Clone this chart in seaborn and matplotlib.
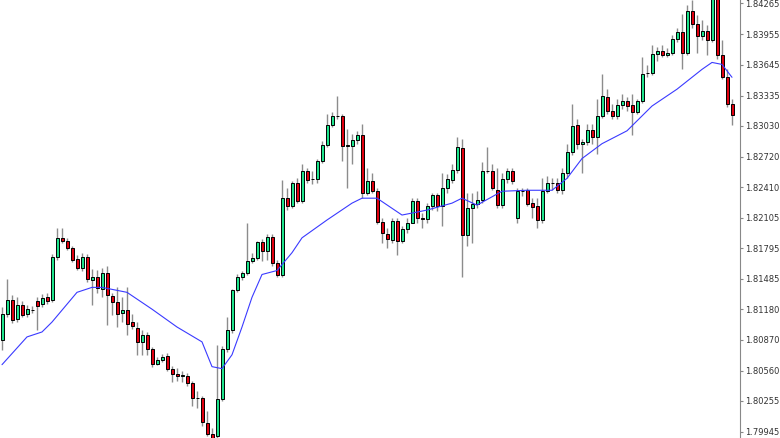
import numpy as np
import pandas as pd
import matplotlib
matplotlib.use("Agg")
import matplotlib.pyplot as plt
import seaborn as sns

# candle data (price, 4 decimals)
opens = [1.8087, 1.8113, 1.8127, 1.8108, 1.8122, 1.8113, 1.8117, 1.8126, 1.8123, 1.8130,
         1.8127, 1.8171, 1.8190, 1.8187, 1.8180, 1.8169, 1.8160, 1.8171, 1.8147, 1.8150,
         1.8138, 1.8155, 1.8131, 1.8125, 1.8114, 1.8117, 1.8105, 1.8099, 1.8085, 1.8092,
         1.8078, 1.8063, 1.8067, 1.8071, 1.8058, 1.8053, 1.8051, 1.8051, 1.8044, 1.8028,
         1.8028, 1.8003, 1.7992, 1.7990, 1.8027, 1.8078, 1.8097, 1.8137, 1.8150, 1.8155,
         1.8167, 1.8170, 1.8186, 1.8177, 1.8191, 1.8165, 1.8152, 1.8230, 1.8222, 1.8245,
         1.8227, 1.8257, 1.8249, 1.8249, 1.8268, 1.8284, 1.8304, 1.8313, 1.8313, 1.8283,
         1.8283, 1.8289, 1.8294, 1.8235, 1.8247, 1.8237, 1.8206, 1.8194, 1.8188, 1.8207,
         1.8187, 1.8199, 1.8205, 1.8227, 1.8210, 1.8209, 1.8222, 1.8233, 1.8222, 1.8240,
         1.8248, 1.8258, 1.8281, 1.8193, 1.8220, 1.8224, 1.8228, 1.8257, 1.8257, 1.8238,
         1.8223, 1.8249, 1.8257, 1.8210, 1.8237, 1.8238, 1.8225, 1.8222, 1.8208, 1.8237,
         1.8245, 1.8245, 1.8238, 1.8255, 1.8277, 1.8304, 1.8285, 1.8287, 1.8299, 1.8292,
         1.8313, 1.8332, 1.8318, 1.8313, 1.8324, 1.8328, 1.8324, 1.8317, 1.8328, 1.8356,
         1.8356, 1.8376, 1.8379, 1.8375, 1.8377, 1.8391, 1.8398, 1.8377, 1.8419, 1.8406,
         1.8394, 1.8399, 1.8390, 1.8435, 1.8375, 1.8352, 1.8325]
closes = [1.8113, 1.8127, 1.8107, 1.8122, 1.8112, 1.8118, 1.8117, 1.8121, 1.8129, 1.8126,
          1.8171, 1.8190, 1.8187, 1.8180, 1.8168, 1.8160, 1.8171, 1.8148, 1.8150, 1.8139,
          1.8155, 1.8132, 1.8125, 1.8113, 1.8117, 1.8103, 1.8101, 1.8085, 1.8092, 1.8078,
          1.8063, 1.8067, 1.8070, 1.8058, 1.8053, 1.8051, 1.8051, 1.8043, 1.8028, 1.8028,
          1.8004, 1.7992, 1.7985, 1.8027, 1.8078, 1.8097, 1.8137, 1.8150, 1.8155, 1.8167,
          1.8170, 1.8186, 1.8177, 1.8191, 1.8165, 1.8152, 1.8230, 1.8222, 1.8245, 1.8227,
          1.8257, 1.8248, 1.8249, 1.8268, 1.8284, 1.8304, 1.8313, 1.8313, 1.8283, 1.8283,
          1.8289, 1.8294, 1.8235, 1.8247, 1.8237, 1.8206, 1.8195, 1.8189, 1.8207, 1.8187,
          1.8199, 1.8205, 1.8227, 1.8210, 1.8209, 1.8222, 1.8233, 1.8222, 1.8240, 1.8249,
          1.8258, 1.8282, 1.8193, 1.8220, 1.8224, 1.8228, 1.8257, 1.8257, 1.8240, 1.8223,
          1.8249, 1.8257, 1.8247, 1.8237, 1.8237, 1.8224, 1.8221, 1.8208, 1.8237, 1.8245,
          1.8245, 1.8238, 1.8255, 1.8277, 1.8303, 1.8285, 1.8287, 1.8299, 1.8292, 1.8313,
          1.8333, 1.8318, 1.8313, 1.8324, 1.8328, 1.8323, 1.8317, 1.8328, 1.8355, 1.8356,
          1.8376, 1.8379, 1.8375, 1.8377, 1.8391, 1.8398, 1.8377, 1.8419, 1.8406, 1.8394,
          1.8399, 1.8390, 1.8435, 1.8375, 1.8352, 1.8325, 1.8314]
highs = [1.8120, 1.8148, 1.8132, 1.8130, 1.8126, 1.8122, 1.8121, 1.8130, 1.8133, 1.8134,
         1.8174, 1.8200, 1.8200, 1.8190, 1.8182, 1.8173, 1.8175, 1.8174, 1.8159, 1.8158,
         1.8160, 1.8162, 1.8134, 1.8140, 1.8130, 1.8140, 1.8113, 1.8105, 1.8097, 1.8095,
         1.8080, 1.8070, 1.8073, 1.8074, 1.8061, 1.8059, 1.8056, 1.8054, 1.8046, 1.8035,
         1.8030, 1.8015, 1.7998, 1.8082, 1.8081, 1.8110, 1.8138, 1.8153, 1.8157, 1.8205,
         1.8175, 1.8187, 1.8189, 1.8194, 1.8194, 1.8168, 1.8248, 1.8240, 1.8247, 1.8250,
         1.8265, 1.8260, 1.8257, 1.8270, 1.8288, 1.8315, 1.8317, 1.8333, 1.8315, 1.8300,
         1.8295, 1.8298, 1.8305, 1.8260, 1.8255, 1.8240, 1.8210, 1.8200, 1.8210, 1.8210,
         1.8202, 1.8210, 1.8230, 1.8230, 1.8215, 1.8225, 1.8235, 1.8235, 1.8255, 1.8254,
         1.8265, 1.8292, 1.8290, 1.8235, 1.8235, 1.8237, 1.8267, 1.8282, 1.8265, 1.8260,
         1.8255, 1.8260, 1.8260, 1.8240, 1.8240, 1.8240, 1.8230, 1.8230, 1.8250, 1.8252,
         1.8250, 1.8250, 1.8260, 1.8285, 1.8325, 1.8310, 1.8290, 1.8305, 1.8305, 1.8330,
         1.8355, 1.8340, 1.8325, 1.8330, 1.8335, 1.8332, 1.8335, 1.8330, 1.8372, 1.8364,
         1.8385, 1.8383, 1.8385, 1.8382, 1.8395, 1.8402, 1.8416, 1.8425, 1.8430, 1.8415,
         1.8410, 1.8405, 1.8440, 1.8440, 1.8390, 1.8360, 1.8330]
lows = [1.8077, 1.8110, 1.8104, 1.8105, 1.8110, 1.8110, 1.8114, 1.8097, 1.8120, 1.8123,
        1.8125, 1.8168, 1.8185, 1.8178, 1.8166, 1.8158, 1.8157, 1.8145, 1.8122, 1.8134,
        1.8130, 1.8102, 1.8112, 1.8100, 1.8105, 1.8092, 1.8098, 1.8072, 1.8072, 1.8072,
        1.8060, 1.8062, 1.8065, 1.8056, 1.8045, 1.8046, 1.8045, 1.8040, 1.8020, 1.8018,
        1.8000, 1.7990, 1.7980, 1.7988, 1.8025, 1.8075, 1.8094, 1.8135, 1.8147, 1.8152,
        1.8165, 1.8168, 1.8167, 1.8168, 1.8162, 1.8150, 1.8150, 1.8218, 1.8220, 1.8225,
        1.8225, 1.8245, 1.8244, 1.8245, 1.8266, 1.8282, 1.8302, 1.8310, 1.8268, 1.8240,
        1.8265, 1.8285, 1.8230, 1.8233, 1.8235, 1.8204, 1.8185, 1.8180, 1.8185, 1.8173,
        1.8185, 1.8195, 1.8205, 1.8205, 1.8200, 1.8205, 1.8218, 1.8217, 1.8202, 1.8235,
        1.8245, 1.8255, 1.8150, 1.8182, 1.8185, 1.8220, 1.8225, 1.8255, 1.8238, 1.8220,
        1.8220, 1.8245, 1.8244, 1.8205, 1.8232, 1.8222, 1.8210, 1.8200, 1.8205, 1.8235,
        1.8238, 1.8235, 1.8234, 1.8250, 1.8274, 1.8280, 1.8255, 1.8284, 1.8285, 1.8275,
        1.8311, 1.8315, 1.8310, 1.8310, 1.8320, 1.8318, 1.8294, 1.8315, 1.8326, 1.8352,
        1.8354, 1.8368, 1.8372, 1.8372, 1.8374, 1.8388, 1.8360, 1.8375, 1.8402, 1.8377,
        1.8390, 1.8375, 1.8388, 1.8370, 1.8350, 1.8322, 1.8304]

# moving average read at selected candles
ma_idx = [0, 5, 8, 10, 15, 18, 20, 25, 30, 35, 40, 42, 44, 46, 48, 50, 52, 55, 58, 60,
          65, 70, 72, 75, 80, 85, 90, 92, 95, 100, 105, 110, 113, 116, 120, 125, 130, 135,
          140, 142, 144, 146]
ma_val = [1.8062, 1.8090, 1.8095, 1.8105, 1.8135, 1.8140, 1.8140, 1.8135, 1.8118, 1.8100,
          1.8085, 1.8060, 1.8058, 1.8072, 1.8100, 1.8130, 1.8153, 1.8157, 1.8175, 1.8190,
          1.8208, 1.8225, 1.8230, 1.8230, 1.8213, 1.8218, 1.8225, 1.8230, 1.8223, 1.8237,
          1.8238, 1.8238, 1.8250, 1.8270, 1.8285, 1.8298, 1.8323, 1.8340, 1.8360, 1.8367,
          1.8365, 1.8352]

tick_labels = ["1.84265", "1.83955", "1.83645", "1.83335", "1.83030", "1.82720", "1.82410",
               "1.82105", "1.81795", "1.81485", "1.81180", "1.80870", "1.80560", "1.80255",
               "1.79945"]

df = pd.DataFrame({"open": opens, "close": closes, "high": highs, "low": lows})
df["x"] = np.arange(len(df))
up = df["close"] >= df["open"]

sns.set_style("white")
fig = plt.figure(figsize=(7.8, 4.38), dpi=100)
ax = fig.add_axes([0, 0, 740 / 780, 1])

ax.vlines(df["x"], df["low"], df["high"], color="#8c8c8c", linewidth=1, zorder=1)
body_bottom = np.minimum(df["open"], df["close"])
body_h = np.maximum((df["close"] - df["open"]).abs(), 0.00002)
colors = np.where(up, "#1ee38c", "#e0000f")
ax.bar(df["x"], body_h, bottom=body_bottom, width=0.6, color=colors,
       edgecolor="black", linewidth=0.7, zorder=2)

ma = pd.DataFrame({"x": ma_idx, "ma": ma_val})
sns.lineplot(data=ma, x="x", y="ma", ax=ax, color="#3a3aff", linewidth=0.8, zorder=3)

ax.set_xlim(-0.4, 147.6)
ax.set_ylim(1.7988, 1.8430)
ax.yaxis.tick_right()
ax.set_yticks([float(t) for t in tick_labels])
ax.set_yticklabels(tick_labels, fontsize=6, color="#333333", family="DejaVu Sans")
ax.tick_params(axis="y", direction="out", length=2, pad=1.5, color="#888888")
ax.set_xticks([])
ax.set_xlabel("")
ax.set_ylabel("")
for side in ["top", "left", "bottom"]:
    ax.spines[side].set_visible(False)
ax.spines["right"].set_color("#888888")
ax.spines["right"].set_linewidth(0.8)

fig.savefig("out.png", dpi=100, facecolor="white")
plt.close(fig)
